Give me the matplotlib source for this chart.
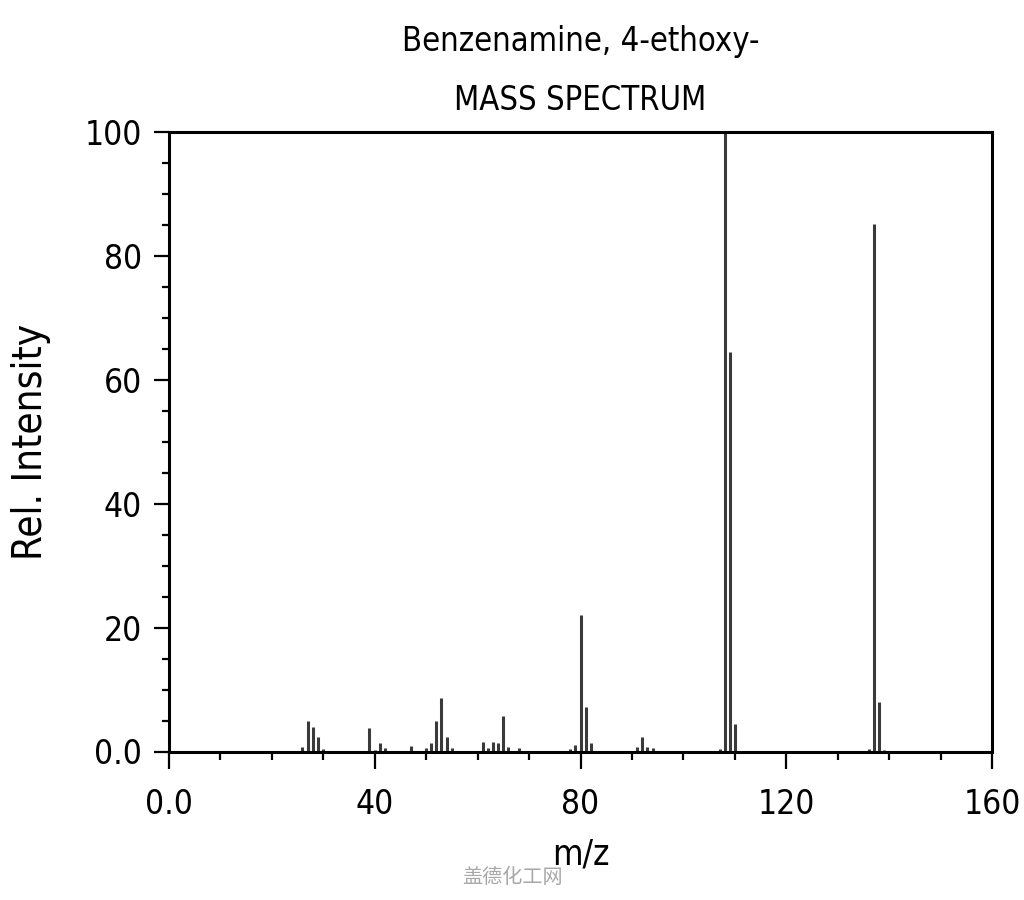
import numpy as np
import matplotlib
matplotlib.use("Agg")
import matplotlib.pyplot as plt
from matplotlib.ticker import MultipleLocator, FixedLocator

# peaks
mz = [26, 27, 28, 29, 30, 39, 40, 41, 42, 47, 50, 51, 52, 53, 54, 55,
      61, 62, 63, 64, 65, 66, 68, 78, 79, 80, 81, 82, 91, 92, 93, 94,
      107, 108, 109, 110, 136, 137, 138, 139]
intensity = [0.8, 4.9, 3.9, 2.3, 0.4, 3.8, 0.3, 1.35, 0.5, 0.9, 0.5, 1.35, 5.0, 8.6, 2.4, 0.5,
             1.5, 0.5, 1.6, 1.35, 5.8, 0.8, 0.5, 0.4, 1.1, 22.1, 7.2, 1.4, 0.75, 2.3, 0.65, 0.5,
             0.45, 100.0, 64.5, 4.5, 0.4, 85.2, 8.0, 0.3]

x_ticks = [0, 40, 80, 120, 160]
x_labels = ["0.0", "40", "80", "120", "160"]
y_ticks = [0, 20, 40, 60, 80, 100]
y_labels = ["0.0", "20", "40", "60", "80", "100"]

title = "Benzenamine, 4-ethoxy-\nMASS SPECTRUM"

plt.rcParams['font.family'] = ['DejaVu Sans']
plt.rcParams['font.stretch'] = 'condensed'

fig = plt.figure(figsize=(10.24, 9), dpi=100)
ax = fig.add_axes([0.1646, 0.165, 0.8046, 0.6883])

ax.vlines(mz, 0, intensity, colors="#3a3a3a", linewidth=2.2)

ax.set_xlim(0, 160)
ax.set_ylim(0, 100)
ax.xaxis.set_major_locator(FixedLocator(x_ticks))
ax.set_xticklabels(x_labels)
ax.xaxis.set_minor_locator(MultipleLocator(10))
ax.yaxis.set_major_locator(FixedLocator(y_ticks))
ax.set_yticklabels(y_labels)
ax.yaxis.set_minor_locator(MultipleLocator(5))

for s in ax.spines.values():
    s.set_linewidth(2.2)
    s.set_color("black")

ax.tick_params(axis="x", which="major", length=12, width=1.6, pad=14, labelsize=24, direction="out")
ax.tick_params(axis="x", which="minor", length=6, width=1.6, direction="out")
ax.tick_params(axis="y", which="major", length=11, width=1.6, pad=8, labelsize=24, direction="out")
ax.tick_params(axis="y", which="minor", length=5, width=1.6, direction="out")

ax.set_title(title, fontsize=23.5, linespacing=2.0, pad=16)
ax.set_xlabel("m/z", fontsize=25, labelpad=12)
ax.set_ylabel("Rel. Intensity", fontsize=29, labelpad=24)

fig.text(0.5, 0.025, "盖德化工网", color="#a8a8a8", fontsize=14.5,
         ha="center", va="center", family=["Noto Sans CJK SC", "DejaVu Sans"])

fig.savefig("out.png", dpi=100, facecolor="white")
